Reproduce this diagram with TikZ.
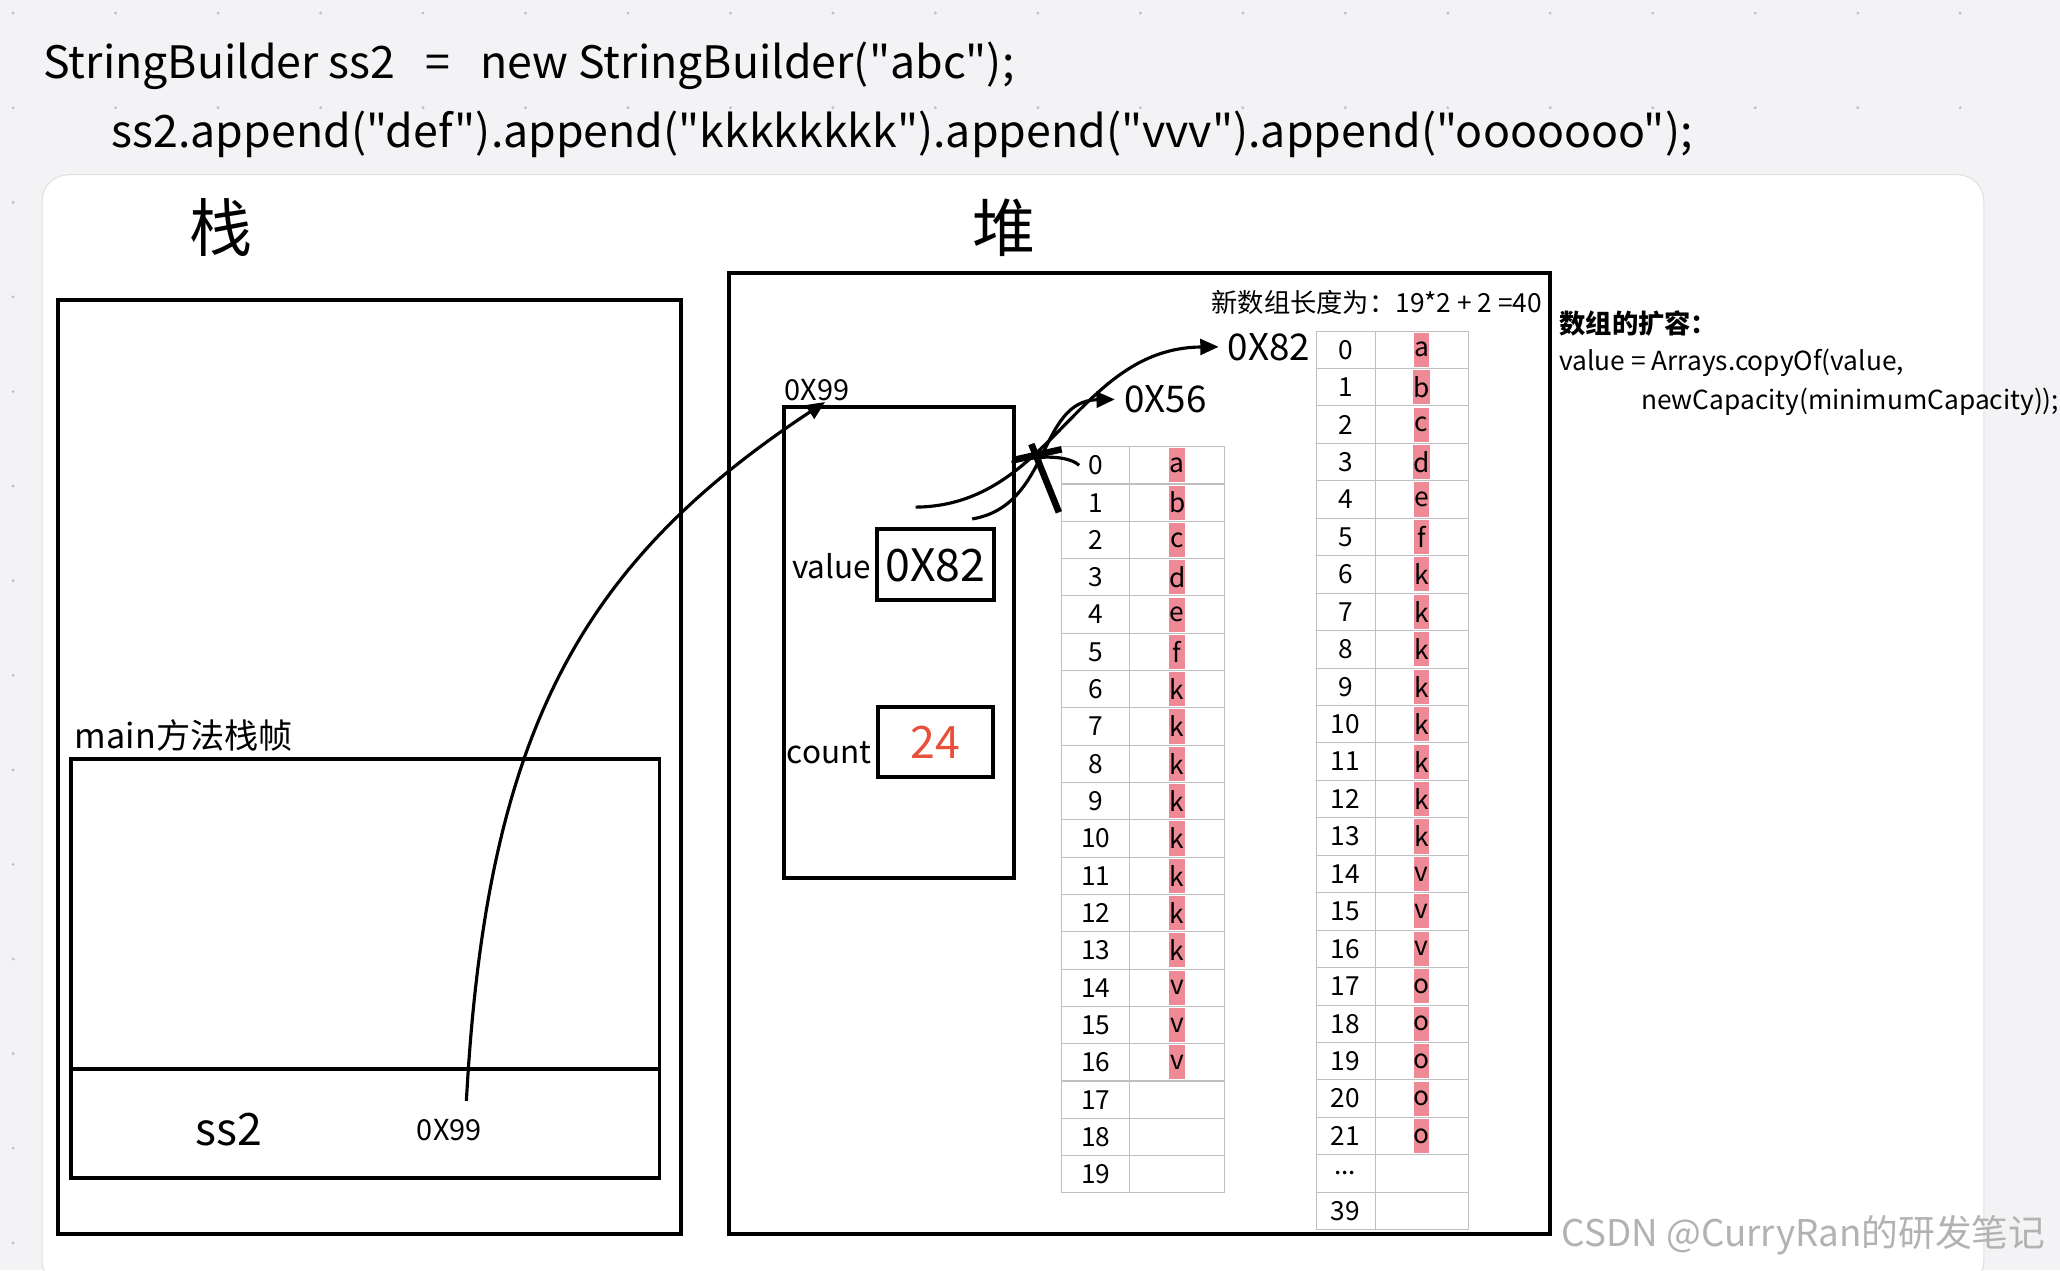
\documentclass[tikz,border=0pt]{standalone}
\usepackage{fontspec}
\defaultfontfeatures{}
\defaultfontfeatures[\rmfamily,\sffamily]{}
\setmainfont{Noto Sans CJK SC}
\usetikzlibrary{arrows.meta}
\definecolor{bg}{HTML}{F3F3F5}
\definecolor{pinkc}{HTML}{EE8A96}
\definecolor{redc}{HTML}{E8503A}
\tikzset{box/.style={draw=black,line width=1.5pt},
 cell/.style={draw=black!25,line width=0.4pt},
 idx/.style={font=\fontsize{10}{12}\selectfont},
 val/.style={font=\fontsize{10}{12}\selectfont,fill=pinkc,inner sep=0pt,minimum width=6pt,minimum height=13pt},
 curve/.style={line width=1.2pt,-{Triangle[length=7pt,width=6pt]}}}
\newcommand{\mydots}{...}
\begin{document}
\begin{tikzpicture}[x=0.5pt,y=-0.5pt]
\fill[bg] (0,0) rectangle (1568,967);
\useasboundingbox (0,0) rectangle (1568,967);
\foreach \i in {0,...,20}{\foreach \j in {0,...,13}{\fill[black!25] (\i*78+10,\j*72+10) circle (1.2);}}
\fill[white,draw=black!12,rounded corners=10] (32,133) rectangle (1510,980);
\node[anchor=west,font=\fontsize{17}{20}\selectfont] (l1) at (26,50) {StringBuilder ss2\ \ \ =\ \ \ new StringBuilder("abc");};
\node[anchor=west,font=\fontsize{17}{20}\selectfont] (l2) at (78,102) {ss2.append("def").append("kkkkkkkk").append("vvv").append("ooooooo");};
\node[font=\fontsize{24}{26}\selectfont] (zhan) at (168,173) {栈};
\node[font=\fontsize{24}{26}\selectfont] (dui) at (764,173) {堆};
% stack
\draw[box] (44,228) rectangle (518,939);
\node[anchor=west,font=\fontsize{13}{15}\selectfont] (mf) at (50,560) {main方法栈帧};
\draw[box] (54,578) rectangle (502,897);
\draw[box] (54,814) -- (502,814);
\node[font=\fontsize{17}{19}\selectfont] (ss2) at (174,860) {ss2};
\node[font=\fontsize{11}{13}\selectfont] (ref) at (342,860) {0X99};
\coordinate (refp) at (355,838);
% heap
\draw[box] (555,208) rectangle (1180,939);
\draw[box] (597,310) rectangle (772,668);
\node[anchor=west,font=\fontsize{11}{13}\selectfont] (objaddr) at (590,297) {0X99};
\coordinate (objp) at (628,306);
\node[font=\fontsize{12}{14}\selectfont] (vl) at (633,431) {value};
\node[box,minimum width=44pt,minimum height=27pt,font=\fontsize{17}{19}\selectfont] (vb) at (712,430) {0X82};
\node[font=\fontsize{12}{14}\selectfont] (cl) at (631,573) {count};
\node[box,minimum width=44pt,minimum height=26.5pt,font=\fontsize{17}{19}\selectfont,text=redc] (cb) at (712,565) {24};
% array 1
\foreach \i/\v in {0/a,1/b,2/c,3/d,4/e,5/f,6/k,7/k,8/k,9/k,10/k,11/k,12/k,13/k,14/v,15/v,16/v,17/,18/,19/}{
 \pgfmathsetmacro\yy{340+\i*28.4}
 \draw[cell] (808,\yy) rectangle (860,\yy+28.4);
 \draw[cell] (860,\yy) rectangle (932,\yy+28.4);
 \node[idx] (a\i) at (834,\yy+14.2) {\i};
 \ifx\v\empty\else\node[val] (av\i) at (896,\yy+14.2) {\v};\fi
}
% array 2
\foreach \i/\lab/\v in {0/0/a,1/1/b,2/2/c,3/3/d,4/4/e,5/5/f,6/6/k,7/7/k,8/8/k,9/9/k,10/10/k,11/11/k,12/12/k,13/13/k,14/14/v,15/15/v,16/16/v,17/17/o,18/18/o,19/19/o,20/20/o,21/21/o,22/\mydots/,23/39/}{
 \pgfmathsetmacro\yy{252+\i*28.5}
 \draw[cell] (1002,\yy) rectangle (1047,\yy+28.5);
 \draw[cell] (1047,\yy) rectangle (1118,\yy+28.5);
 \node[idx] (b\i) at (1024,\yy+14.2) {\lab};
 \ifx\v\empty\else\node[val] (bv\i) at (1082,\yy+14.2) {\v};\fi
}
\node[font=\fontsize{14}{16}\selectfont] (n82) at (966,264) {0X82};
\node[font=\fontsize{14}{16}\selectfont] (n56) at (887,304) {0X56};
\node[font=\fontsize{10}{12}\selectfont] (newlen) at (1048,230) {新数组长度为：19*2 + 2 =40};
\node[anchor=west,font=\fontsize{10}{12}\selectfont\bfseries] (kr) at (1180,246) {数组的扩容：};
\node[anchor=west,font=\fontsize{10}{12}\selectfont] (c1) at (1180,276) {value = Arrays.copyOf(value,};
\node[anchor=west,font=\fontsize{10}{12}\selectfont] (c2) at (1242,306) {newCapacity(minimumCapacity));};
% connectors
\coordinate (vs) at (697,386);
\coordinate (vs2) at (740,395);
\draw[curve] (refp) .. controls (370,560) and (440,430) .. (objp);
\draw[curve] (vs) .. controls (800,385) and (820,265) .. (n82.west);
\draw[curve] (vs2) .. controls (800,385) and (790,305) .. (n56.west);
\draw[line width=1.2pt] (770,352) .. controls (795,345) and (815,348) .. (a0.west);
\draw[line width=2.5pt] (785,338) -- (806,390);
\draw[line width=2.5pt] (772,350) -- (808,342);
\node[anchor=east,text=black!30,font=\fontsize{14}{16}\selectfont] (wm) at (1564,940) {CSDN @CurryRan的研发笔记};
\end{tikzpicture}
\end{document}
